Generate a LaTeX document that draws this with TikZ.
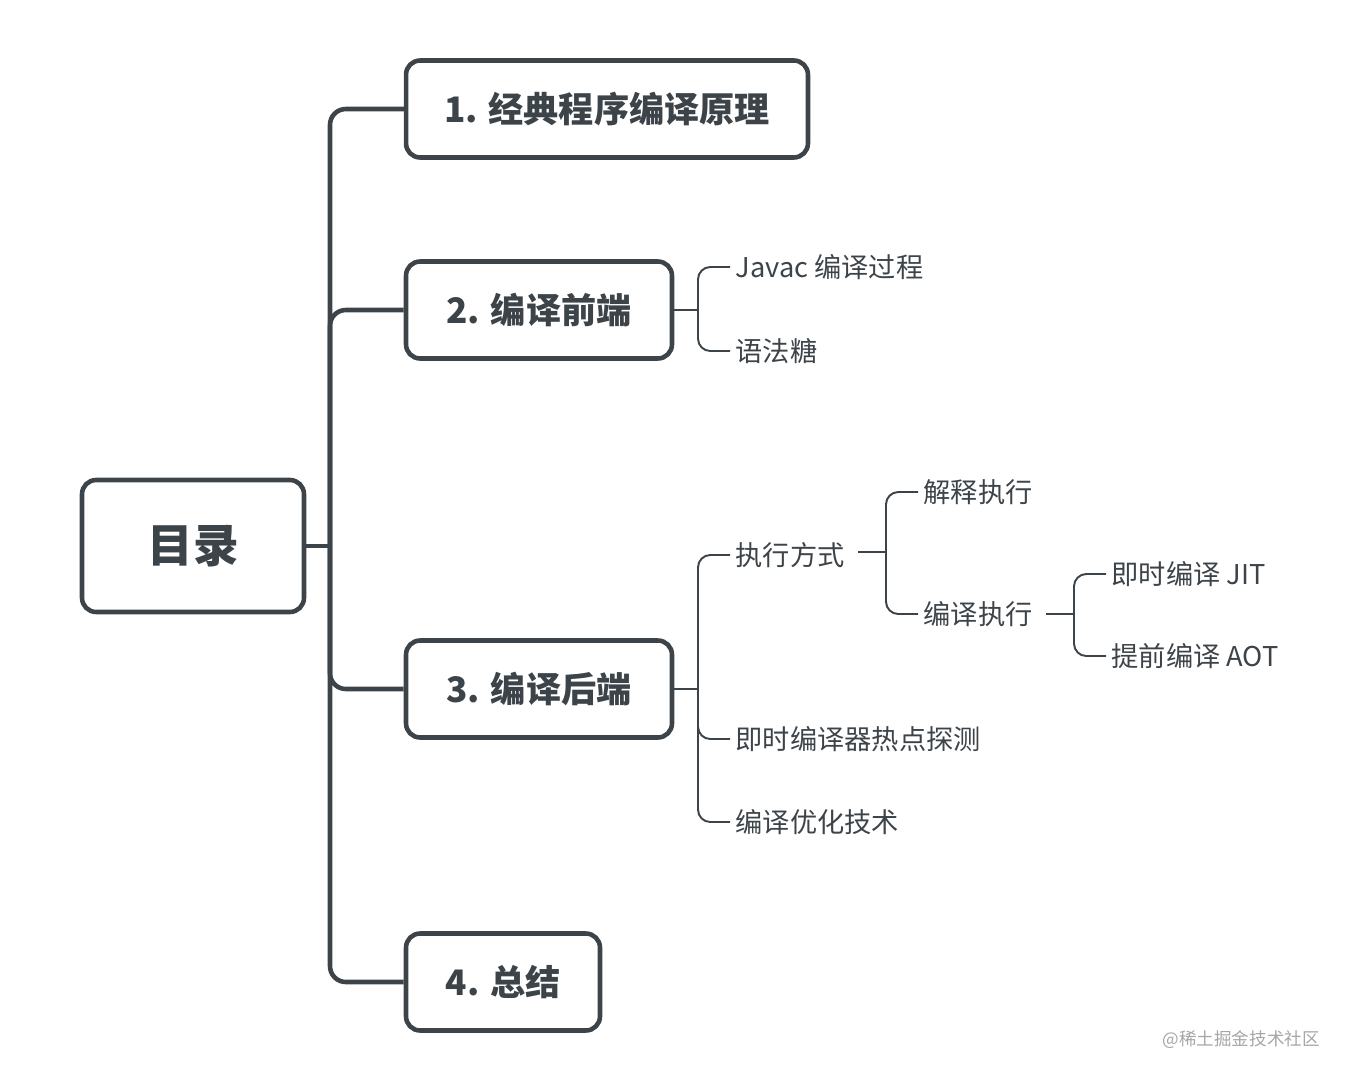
\documentclass[tikz,border=0pt]{standalone}
\usepackage{fontspec}
\setmainfont{Noto Sans CJK SC}
\definecolor{ink}{HTML}{3D4449}
\begin{document}
\begin{tikzpicture}[x=0.02cm, y=-0.02cm, ink,
    box/.style={draw, line width=2.6pt, rounded corners=8pt, inner sep=0pt, font=\fontsize{20}{24}\selectfont\bfseries},
    leaf/.style={anchor=west, inner sep=3pt, font=\fontsize{15.5}{18}\selectfont},
    main/.style={line width=2.6pt, rounded corners=9pt},
    sub/.style={line width=1.1pt, rounded corners=7pt}]
    \useasboundingbox (0,0) rectangle (1354,1078);
    % root and first level
    \node[box, minimum width=4.44cm, minimum height=2.64cm, font=\fontsize{26}{30}\selectfont\bfseries] (root) at (193,546) {目录};
    \node[box, minimum width=8.04cm, minimum height=1.94cm] (b1) at (607,109) {1. 经典程序编译原理};
    \node[box, minimum width=5.32cm, minimum height=1.94cm] (b2) at (539,310) {2. 编译前端};
    \node[box, minimum width=5.32cm, minimum height=1.94cm] (b3) at (539,689) {3. 编译后端};
    \node[box, minimum width=3.88cm, minimum height=1.94cm] (b4) at (503,982) {4. 总结};
    \coordinate (t) at (330,546);
    \draw[main] (root.east) -- (t);
    \draw[main] (b1.west) -| (t) |- (b4.west);
    \draw[main] (t) |- (b2.west);
    \draw[main] (t) |- (b3.west);
    % second level
    \node[leaf] (s21) at (730,267) {Javac 编译过程};
    \node[leaf] (s22) at (730,351) {语法糖};
    \coordinate (j2) at (698,310);
    \draw[sub] (b2.east) -- (j2);
    \draw[sub] (s21.west) -| (j2) |- (s22.west);
    \node[leaf] (s31) at (730,555) {执行方式};
    \node[leaf] (s32) at (730,739) {即时编译器热点探测};
    \node[leaf] (s33) at (730,822) {编译优化技术};
    \coordinate (j3) at (698,689);
    \draw[sub] (b3.east) -- (j3);
    \draw[sub] (s31.west) -| (j3) |- (s33.west);
    \draw[sub] (j3) |- (s32.west);
    % third level
    \node[leaf] (e1) at (918,492) {解释执行};
    \node[leaf] (e2) at (918,614) {编译执行};
    \coordinate (j4) at (886,552);
    \draw[sub] (s31.east) ++(8,-3) coordinate (k4) (k4) -- (j4 |- k4);
    \draw[sub] (e1.west) -| (j4) |- (e2.west);
    \node[leaf] (c1) at (1106,574) {即时编译 JIT};
    \node[leaf] (c2) at (1106,656) {提前编译 AOT};
    \coordinate (j5) at (1074,614);
    \draw[sub] (e2.east) ++(8,0) coordinate (k5) (k5) -- (j5);
    \draw[sub] (c1.west) -| (j5) |- (c2.west);
    % watermark
    \node[anchor=east, gray!70, font=\fontsize{10}{12}\selectfont] (wm) at (1326,1040) {@稀土掘金技术社区};
\end{tikzpicture}
\end{document}
